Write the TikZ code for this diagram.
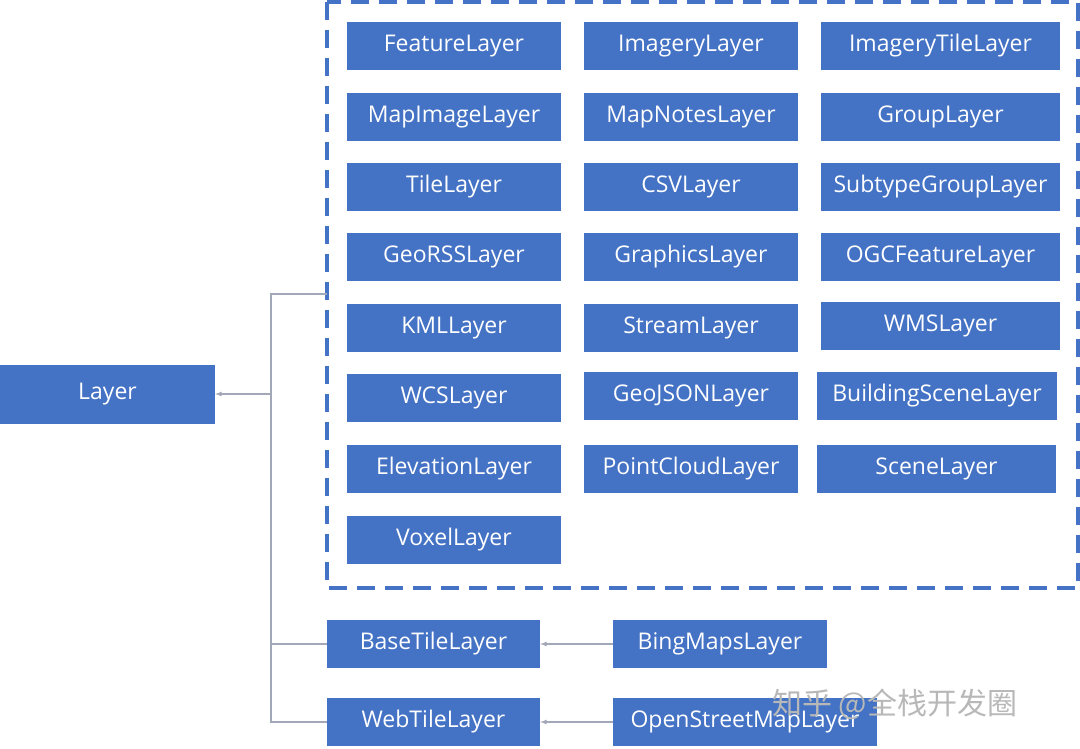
\documentclass[tikz,border=0pt]{standalone}
\usepackage{fontspec}
\setmainfont{Open Sans}
\newfontfamily\cjk{Noto Sans CJK SC}
\begin{document}
\begin{tikzpicture}[x=1pt,y=-1pt,
  lay/.style={fill=blu,text=white,inner sep=0pt,font=\fontsize{23}{26}\selectfont},
  conn/.style={draw=lin,line width=1.2pt},
  arr/.style={conn,-latex}]
\definecolor{blu}{HTML}{4472C4}
\definecolor{lin}{HTML}{A3A8B8}
\useasboundingbox (0,0) rectangle (1080,749);
\newcommand{\bx}[6]{\node[lay,minimum width={#4-#3},minimum height=#2] (#1) at ({(#3+#4)/2},#5) {#6};}
\draw[blu,line width=4pt,dash pattern=on 18pt off 10pt] (327,2) rectangle (1078,588);
\bx{l}{59}{0}{215}{394}{Layer}
\bx{a1}{48}{347}{561}{46}{FeatureLayer}
\bx{a2}{48}{584}{798}{46}{ImageryLayer}
\bx{a3}{48}{821}{1060}{46}{ImageryTileLayer}
\bx{b1}{48}{347}{561}{117}{MapImageLayer}
\bx{b2}{48}{584}{798}{117}{MapNotesLayer}
\bx{b3}{48}{821}{1060}{117}{GroupLayer}
\bx{c1}{48}{347}{561}{187}{TileLayer}
\bx{c2}{48}{584}{798}{187}{CSVLayer}
\bx{c3}{48}{821}{1060}{187}{SubtypeGroupLayer}
\bx{d1}{48}{347}{561}{257}{GeoRSSLayer}
\bx{d2}{48}{584}{798}{257}{GraphicsLayer}
\bx{d3}{48}{821}{1060}{257}{OGCFeatureLayer}
\bx{e1}{48}{347}{561}{328}{KMLLayer}
\bx{e2}{48}{584}{798}{328}{StreamLayer}
\bx{e3}{48}{821}{1060}{326}{WMSLayer}
\bx{f1}{48}{347}{561}{398}{WCSLayer}
\bx{f2}{48}{584}{798}{396}{GeoJSONLayer}
\bx{f3}{48}{817}{1057}{396}{BuildingSceneLayer}
\bx{g1}{48}{347}{561}{469}{ElevationLayer}
\bx{g2}{48}{584}{798}{469}{PointCloudLayer}
\bx{g3}{48}{817}{1056}{469}{SceneLayer}
\bx{h1}{48}{347}{561}{540}{VoxelLayer}
\bx{bt}{48}{327}{540}{644}{BaseTileLayer}
\bx{bm}{48}{613}{827}{644}{BingMapsLayer}
\bx{wt}{48}{327}{540}{722}{WebTileLayer}
\bx{os}{48}{613}{877}{722}{OpenStreetMapLayer}
\coordinate (top) at (271,294);
\coordinate (dl) at (327,294);
\coordinate (mid) at (271,394);
\coordinate (j1) at (271,644);
\coordinate (j2) at (271,722);
\draw[conn] (dl) -- (top) -- (j2) -- (wt.west);
\draw[conn] (j1) -- (bt.west);
\draw[arr] (mid) -- (l.east);
\draw[arr] (bm) -- (bt);
\draw[arr] (os) -- (wt);
\node[text=black!28,font=\cjk\fontsize{30}{34}\selectfont,anchor=west,inner sep=0pt] (wm) at (772,704) {知乎 @全栈开发圈};
\end{tikzpicture}
\end{document}
